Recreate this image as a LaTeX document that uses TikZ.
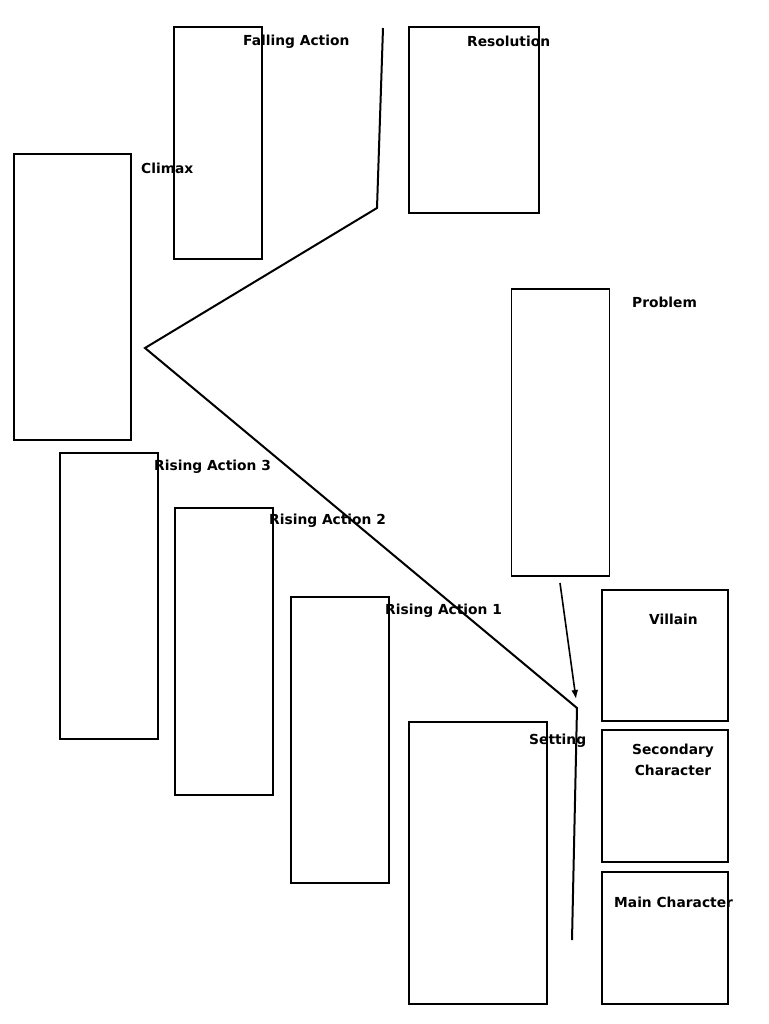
\documentclass[tikz,border=0pt]{standalone}
\usepackage{fontspec}
\setmainfont{DejaVu Sans}
\usetikzlibrary{arrows.meta}

\begin{document}
\begin{tikzpicture}[
  x=1pt, y=-1pt,
  box/.style={draw, line width=1.1pt, inner sep=0pt},
  tag/.style={anchor=west, inner sep=0pt, font=\bfseries\fontsize{13.8}{20.5}\selectfont, align=center},
  plot/.style={draw, line width=2pt}
]
\useasboundingbox[fill=white] (0,0) rectangle (768,1024);

% boxes
\node[box, minimum width=88pt,  minimum height=232pt] (falling)  at (218,143) {};
\node[box, minimum width=130pt, minimum height=186pt] (resol)    at (474,120) {};
\node[box, minimum width=117pt, minimum height=286pt] (climax)   at (72.5,297) {};
\node[box, minimum width=98pt,  minimum height=287pt] (problem)  at (560.5,432.5) {};
\node[box, minimum width=98pt,  minimum height=286pt] (rising3)  at (109,596) {};
\node[box, minimum width=98pt,  minimum height=287pt] (rising2)  at (224,651.5) {};
\node[box, minimum width=98pt,  minimum height=286pt] (rising1)  at (340,740) {};
\node[box, minimum width=138pt, minimum height=282pt] (setting)  at (478,863) {};
\node[box, minimum width=126pt, minimum height=131pt] (villain)  at (665,655.5) {};
\node[box, minimum width=126pt, minimum height=132pt] (second)   at (665,796) {};
\node[box, minimum width=126pt, minimum height=132pt] (mainch)   at (665,938) {};

% labels
\node[tag] (tfalling) at (243,42)  {Falling Action};
\node[tag] (tresol)   at (467,41)  {Resolution};
\node[tag] (tclimax)  at (141,168) {Climax};
\node[tag] (tproblem) at (632,302) {Problem};
\node[tag] (trising3) at (154,467) {Rising Action 3};
\node[tag] (trising2) at (269,521) {Rising Action 2};
\node[tag] (trising1) at (385,611) {Rising Action 1};
\node[tag] (tsetting) at (529,741) {Setting};
\node[tag] (tvillain) at (649,619) {Villain};
\node[tag, anchor=center] (tsecond) at (673,760) {Secondary\\Character};
\node[tag] (tmainch)  at (614,902) {Main Character};

% plot line
\coordinate (start) at (572,940);
\coordinate (turn)  at (577,708);
\coordinate (peak)  at (145,348);
\coordinate (fall)  at (377,208);
\coordinate (stop)  at (383,28);
\draw[plot] (start) -- (turn) -- (peak) -- (fall) -- (stop);

\coordinate (from) at (560,583);
\coordinate (to)   at (576,699);
\draw[line width=1.6pt, -{Latex[length=9pt,width=7pt]}] (from) -- (to);
\end{tikzpicture}
\end{document}
